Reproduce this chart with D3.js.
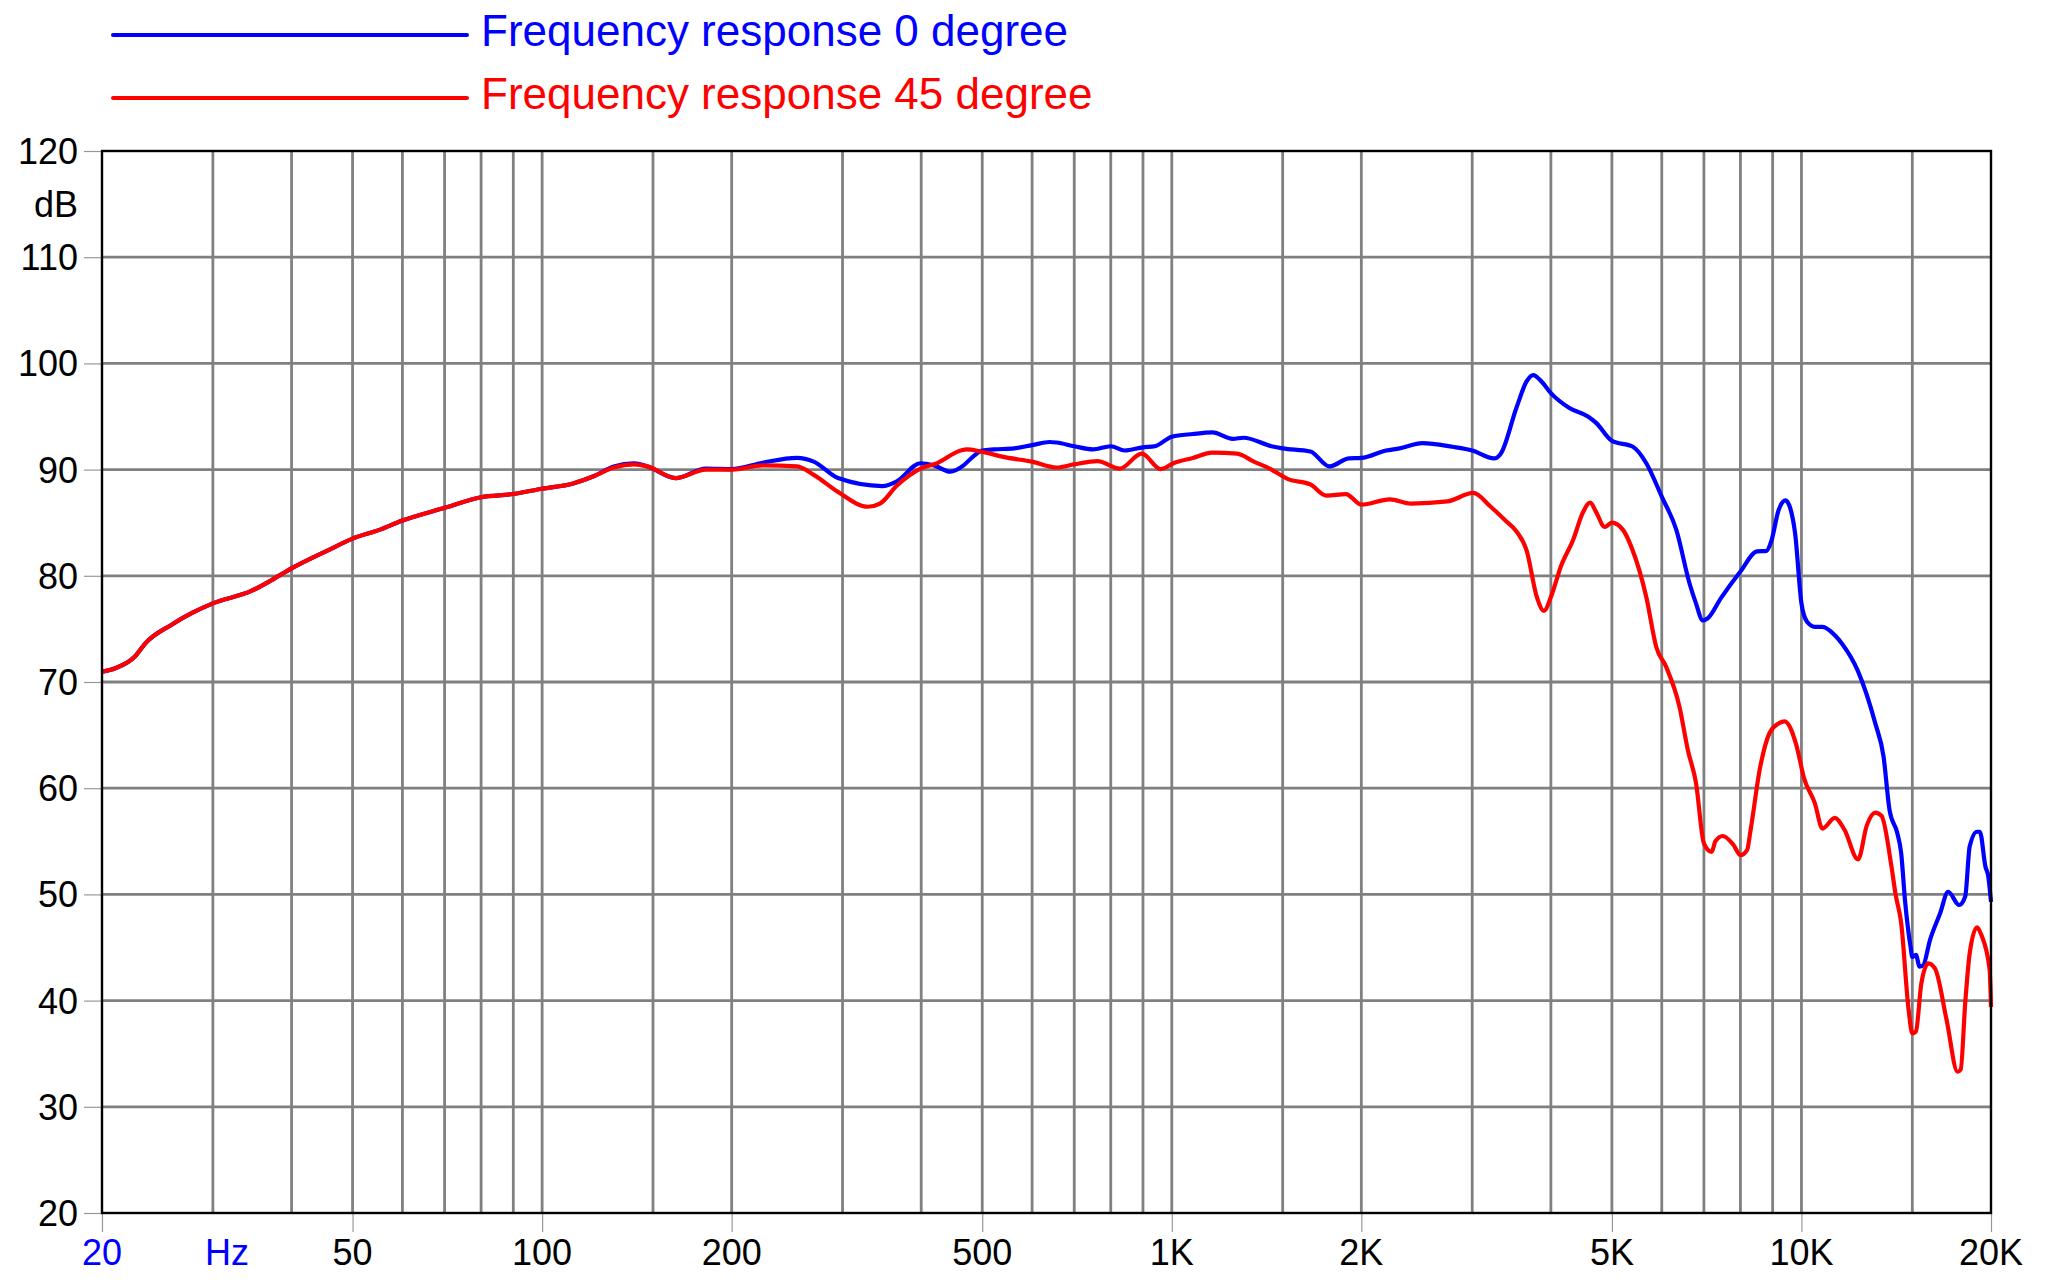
<!DOCTYPE html>
<html>
<head>
<meta charset="utf-8">
<script src="https://cdn.jsdelivr.net/npm/d3@7"></script>
<style>
  body { margin: 0; background: #fff; }
  text { font-family: "Liberation Sans", Arial, Helvetica, sans-serif; }
</style>
</head>
<body>
<svg id="chart" width="2045" height="1280"></svg>
<script>
// Frequency response readings (Hz, dB)
var freq0 = [20, 21, 22.6, 23.4, 25.8, 27.8, 30, 34.6, 37.2, 40, 45.7, 50, 55, 60, 70, 80, 90, 100,
  112, 121, 130, 140, 147, 163, 182, 200, 224, 254, 270, 295, 347, 366, 399, 419, 445, 467, 483,
  500, 522, 562, 600, 640, 656, 700, 750, 800, 842, 900, 940, 1000, 1080, 1160, 1250, 1300, 1440,
  1500, 1660, 1780, 1910, 2000, 2190, 2300, 2500, 2790, 3000, 3250, 3330, 3530, 3660, 3750, 3850,
  4000, 4280, 4580, 4720, 5000, 5400, 5670, 6000, 6330, 6640, 6800, 6970, 7100, 7450, 8000, 8500,
  8800, 8950, 9200, 9430, 9600, 9770, 10000, 10200, 10500, 10800, 11300, 11600, 12300, 13100,
  13500, 13800, 14200, 14400, 14600, 14900, 15000, 15200, 15400, 15600, 16000, 16600, 17100,
  17800, 18200, 18500, 19000, 19200, 19600, 19800, 20000];
var spl0 = [70.97, 71.3, 72.45, 73.6, 75.4, 76.5, 77.4, 78.6, 79.6, 80.7, 82.4, 83.5, 84.3, 85.2, 86.4, 87.4, 87.7, 88.2,
  88.7, 89.4, 90.3, 90.6, 90.3, 89.2, 90.1, 90.05, 90.65, 91.1, 90.75, 89.2, 88.45, 88.9, 90.6, 90.4, 89.8, 90.4, 91.2,
  91.8, 91.9, 92.0, 92.3, 92.6, 92.55, 92.2, 91.9, 92.2, 91.8, 92.1, 92.2, 93.1, 93.35, 93.5, 92.9, 93.0, 92.2,
  92.0, 91.7, 90.3, 91.05, 91.1, 91.8, 92.0, 92.5, 92.15, 91.8, 91.05, 91.5, 95.9, 98.3, 98.9, 98.4,
  97.2, 95.8, 95.0, 94.4, 92.7, 92.15, 90.6, 87.45, 84.3, 79.3, 77.4, 75.8, 76.0, 77.9, 80.4, 82.3,
  82.35, 83.2, 86.2, 87.1, 86.35, 84.0, 77.4, 75.7, 75.2, 75.2, 74.4, 73.6, 71.0, 66.1,
  63.0, 57.95, 55.75, 53.9, 49.5, 45.1, 44.1, 44.3, 43.2, 43.3, 45.7, 48.2, 50.25,
  49.0, 49.8, 54.5, 55.9, 55.9, 52.6, 51.7, 49.3];

var freq45 = [20, 21, 22.6, 23.4, 25.8, 27.8, 30, 34.6, 37.2, 40, 45.7, 50, 55, 60, 70, 80, 90, 100,
  112, 121, 130, 140, 147, 163, 182, 200, 224, 254, 270, 295, 329, 344, 366, 399, 424, 462, 473,
  497, 545, 600, 656, 700, 762, 827, 896, 960, 1010, 1080, 1160, 1270, 1350, 1430, 1530, 1660,
  1760, 1890, 2000, 2220, 2400, 2740, 3010, 3210, 3380, 3530, 3660, 3800, 3900, 4000, 4150, 4340,
  4500, 4620, 4720, 4870, 5000, 5210, 5370, 5670, 5880, 6100, 6400, 6600, 6800, 7000, 7200, 7300,
  7500, 7800, 8000, 8200, 8300, 8600, 8900, 9200, 9400, 9800, 10100, 10500, 10800, 11300, 11700,
  12300, 12700, 13100, 13400, 13900, 14100, 14400, 14800, 15000, 15200, 15500, 15900, 16300,
  17000, 17700, 17900, 18200, 18500, 19000, 19300, 19900, 20000];
var spl45 = [70.97, 71.3, 72.45, 73.6, 75.4, 76.5, 77.4, 78.6, 79.6, 80.7, 82.4, 83.5, 84.3, 85.2, 86.4, 87.4, 87.7, 88.2,
  88.7, 89.4, 90.2, 90.5, 90.3, 89.2, 90.0, 90.0, 90.4, 90.3, 89.5, 87.9, 86.5, 86.8, 88.5, 90.1, 90.6, 91.8, 91.9,
  91.7, 91.15, 90.75, 90.2, 90.5, 90.8, 90.1, 91.5, 90.05, 90.65, 91.1, 91.6, 91.5, 90.75, 90.1, 89.1, 88.6,
  87.55, 87.7, 86.7, 87.2, 86.8, 87.0, 87.8, 86.5, 85.25, 84.15, 82.4, 78.0, 76.7, 78.0, 80.9, 83.4,
  86.0, 86.9, 86.0, 84.6, 85.0, 84.3, 82.7, 78.0, 73.3, 71.4, 67.7, 63.6, 60.5, 54.8, 54.0, 55.0,
  55.5, 54.65, 53.7, 54.2, 56.0, 62.0, 65.2, 66.1, 66.3, 64.2, 60.9, 58.6, 56.2, 57.2, 56.1,
  53.3, 56.5, 57.7, 57.4, 52.6, 50.1, 47.3, 39.1, 36.9, 37.1, 41.6, 43.5, 43.0,
  38.2, 33.3, 33.5, 39.75, 44.45, 46.9, 46.2, 42.9, 39.4];

var gridFreqs = [30, 40, 50, 60, 70, 80, 90, 100, 150, 200, 300, 400, 500, 600, 700, 800, 900,
  1000, 1500, 2000, 3000, 4000, 5000, 6000, 7000, 8000, 9000, 10000, 15000];
var xTickVals = [50, 100, 200, 500, 1000, 2000, 5000, 10000, 20000];
var xTickText = ["50", "100", "200", "500", "1K", "2K", "5K", "10K", "20K"];
var yTickVals = [20, 30, 40, 50, 60, 70, 80, 90, 100, 110, 120];
var legendNames = ["Frequency response 0 degree", "Frequency response 45 degree"];

var svg = d3.select("#chart");
var L = 102, R = 1991, T = 151, B = 1213;

var x = d3.scaleLog().domain([20, 20000]).range([L, R]);
var y = d3.scaleLinear().domain([20, 120]).range([B, T]);

// grid
var grid = svg.append("g").attr("stroke", "#808080").attr("stroke-width", 2.8);
grid.selectAll(".v").data(gridFreqs).enter().append("line")
  .attr("x1", d => x(d)).attr("x2", d => x(d)).attr("y1", T).attr("y2", B);
grid.selectAll(".h").data(yTickVals.slice(1, -1)).enter().append("line")
  .attr("x1", L).attr("x2", R).attr("y1", d => y(d)).attr("y2", d => y(d));

// axes (outer ticks only, labels drawn separately)
var yAxis = d3.axisLeft(y).tickValues(yTickVals).tickSize(18).tickFormat("");
var gy = svg.append("g").attr("transform", "translate(" + L + ",0)").call(yAxis);
var xAxis = d3.axisBottom(x).tickValues([20].concat(xTickVals)).tickSize(19).tickFormat("");
var gx = svg.append("g").attr("transform", "translate(0," + B + ")").call(xAxis);
[gx, gy].forEach(function (g) {
  g.select(".domain").remove();
  g.selectAll(".tick line").attr("stroke", "#999").attr("stroke-width", 1.2);
});

svg.append("g").selectAll("text").data(yTickVals).enter().append("text")
  .attr("x", 78).attr("y", d => y(d)).attr("dy", "0.36em")
  .attr("text-anchor", "end").attr("font-size", 36).text(d => d);
svg.append("text").attr("x", 78).attr("y", 217).attr("text-anchor", "end")
  .attr("font-size", 36).text("dB");

svg.append("g").selectAll("text").data(xTickVals).enter().append("text")
  .attr("x", d => x(d)).attr("y", 1265).attr("text-anchor", "middle")
  .attr("font-size", 36).text((d, i) => xTickText[i]);
svg.append("text").attr("x", x(20)).attr("y", 1265).attr("text-anchor", "middle")
  .attr("font-size", 36).attr("fill", "#0000ff").text("20");
svg.append("text").attr("x", 227).attr("y", 1265).attr("text-anchor", "middle")
  .attr("font-size", 36).attr("fill", "#0000ff").text("Hz");

// curves
var line = d3.line().x(d => x(d[0])).y(d => y(d[1])).curve(d3.curveMonotoneX);
var series = [
  { f: freq0, v: spl0, color: "#0000ff" },
  { f: freq45, v: spl45, color: "#ff0000" }
];
series.forEach(function (s) {
  svg.append("path")
    .datum(d3.zip(s.f, s.v))
    .attr("d", line)
    .attr("fill", "none")
    .attr("stroke", s.color)
    .attr("stroke-width", 4.2)
    .attr("stroke-linejoin", "round");
});

// frame
svg.append("rect").attr("x", L).attr("y", T).attr("width", R - L).attr("height", B - T)
  .attr("fill", "none").attr("stroke", "#000").attr("stroke-width", 2.4);

// legend
var legY = [35, 98];
series.forEach(function (s, i) {
  svg.append("line").attr("x1", 113).attr("x2", 467).attr("y1", legY[i]).attr("y2", legY[i])
    .attr("stroke", s.color).attr("stroke-width", 4).attr("stroke-linecap", "round");
  svg.append("text").attr("x", 481).attr("y", legY[i] + 11).attr("font-size", 44)
    .attr("fill", s.color).text(legendNames[i]);
});
</script>
</body>
</html>
